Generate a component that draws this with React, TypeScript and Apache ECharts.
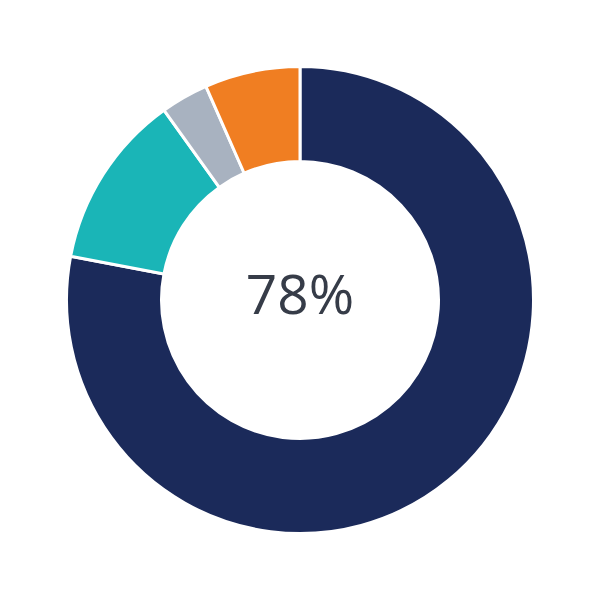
import React, { useEffect, useRef } from "react";
import * as echarts from "echarts";

const categories = ["Navy", "Teal", "Gray", "Orange"];
const values = [78, 12.1, 3.3, 6.6];
const colors = ["#1b2a5a", "#1ab5b7", "#a8b2c0", "#f07e22"];
const centerLabel = "78%";

export default function App() {
  const ref = useRef<HTMLDivElement>(null);
  useEffect(() => {
    document.body.style.margin = "0";
    const chart = echarts.init(ref.current!, null, { renderer: "svg" });
    chart.setOption({
      animation: false,
      backgroundColor: "#ffffff",
      graphic: [
        {
          type: "text",
          left: "center",
          top: 265,
          style: {
            text: centerLabel,
            fontFamily: "Open Sans",
            fontSize: 55,
            fontWeight: 400,
            fill: "#363c48",
          },
        },
      ],
      series: [
        {
          type: "pie",
          center: [300, 300],
          radius: [138.5, 233.5],
          startAngle: 90,
          clockwise: true,
          label: { show: false },
          labelLine: { show: false },
          itemStyle: { borderColor: "#ffffff", borderWidth: 3 },
          emphasis: { disabled: true },
          data: categories.map((c, i) => ({
            name: c,
            value: values[i],
            itemStyle: { color: colors[i] },
          })),
        },
      ],
    });
    return () => chart.dispose();
  }, []);
  return <div ref={ref} style={{ width: 600, height: 600 }} />;
}
